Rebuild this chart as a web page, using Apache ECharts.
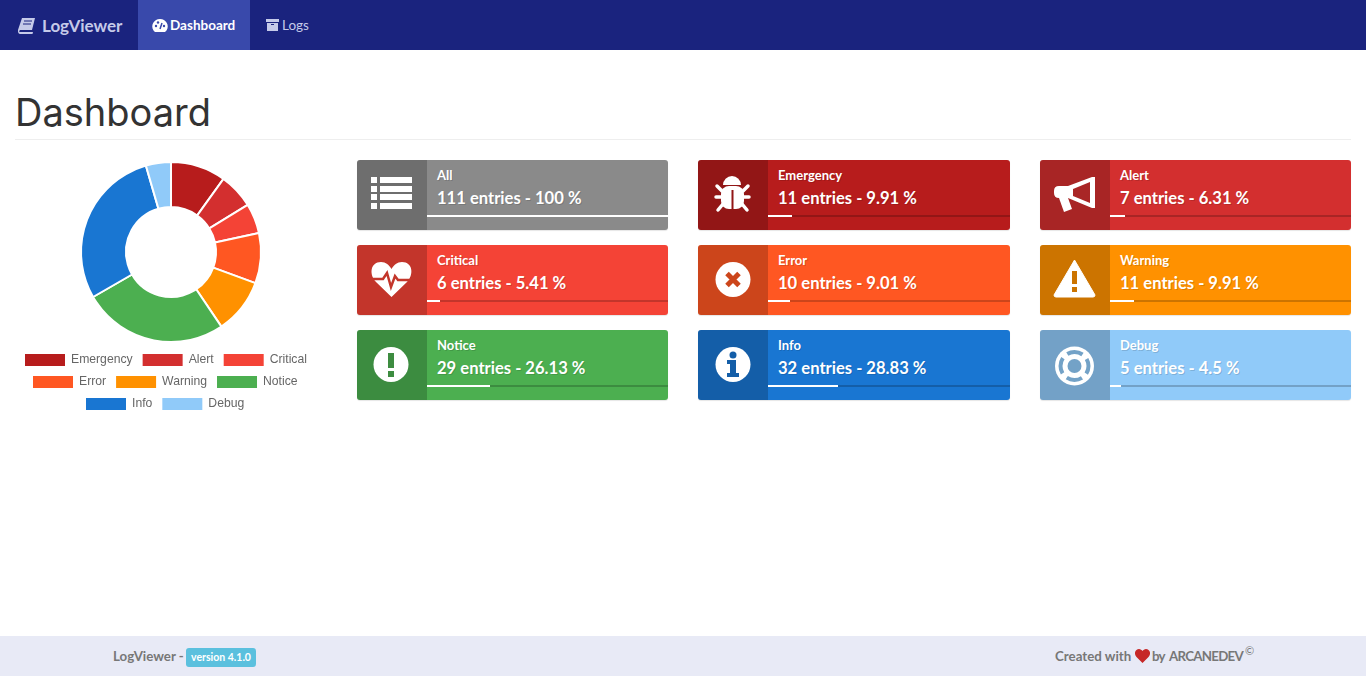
<!DOCTYPE html>
<html>
<head>
<meta charset="utf-8">
<title>LogViewer</title>
<script src="https://cdn.jsdelivr.net/npm/echarts@6/dist/echarts.min.js"></script>
<style>
html, body { margin: 0; width: 1366px; height: 676px; overflow: hidden; background: #fff; font-family: "Lato", sans-serif; }
.nav { position: absolute; left: 0; top: 0; width: 1366px; height: 50px; background: #1a237e; color: #c5cae9; }
.nav div, .nav svg { position: absolute; }
.brand { left: 42px; top: 14px; font-size: 17px; font-weight: 700; line-height: 24px; }
.active { left: 138px; top: 0; width: 112px; height: 50px; background: #3949ab; }
.link { top: 15px; font-size: 13.500px; line-height: 20px; }
h1 { position: absolute; left: 15px; top: 90px; margin: 0; font: 400 38px/44px "Inter", sans-serif; color: #333; }
.rule { position: absolute; left: 15px; top: 139px; width: 1336px; height: 1px; background: #eee; }
#chart { position: absolute; left: 0; top: 150px; width: 342px; height: 270px; }
.card { position: absolute; width: 311px; height: 70px; border-radius: 3px; color: #fff; overflow: hidden; box-shadow: 0 1px 1px rgba(0,0,0,.1); text-shadow: 1px 1px 0 rgba(0,0,0,.15); }
.card .ico { position: absolute; left: 0; top: 0; width: 70px; height: 70px; background: rgba(0,0,0,.2); }
.card .ico svg { display: block; }
.card .lvl { position: absolute; left: 80px; top: 6px; font-size: 13px; font-weight: 700; line-height: 18px; }
.card .val { position: absolute; left: 80px; top: 26px; font-size: 16.600px; font-weight: 700; line-height: 24px; white-space: nowrap; }
.card .track { position: absolute; left: 70px; right: 0; top: 55px; height: 2px; background: rgba(0,0,0,.2); }
.card .fill { height: 2px; background: #fff; }
.foot { position: absolute; left: 0; top: 636px; width: 1366px; height: 40px; background: #e8eaf6; color: #777; font-size: 13.300px; font-weight: 700; line-height: 40px; }
.foot div, .foot svg { position: absolute; }
.badge { left: 186px; top: 12px; width: 70px; height: 19px; border-radius: 3px; background: #5bc0de; color: #fff; font-size: 10.500px; line-height: 19px; text-align: center; }
.copy { left: 1245px; top: -5px; font-size: 11px; font-weight: 400; }
</style>
</head>
<body>
<div class="nav">
	<svg style="left:18px;top:17px" width="18" height="17" viewBox="0 0 18 17"><path d="M4 1h13l-3 12H2c-1 1-1 2 0 2h13l-.5 2H2C0 17-.5 14 .3 12z" fill="#c5cae9"/><path d="M6 4h8M5 7h8" stroke="#1a237e"/></svg>
	<div class="brand">LogViewer</div>
	<div class="active"></div>
	<svg style="left:152px;top:18px" width="16" height="14" viewBox="0 0 16 14"><path d="M8 1a7.500 7.500 0 0 0-6.500 11.500L3 14h10l1.500-1.500A7.500 7.500 0 0 0 8 1z" fill="#fff"/><circle cx="4" cy="8" r="1.200" fill="#3949ab"/><circle cx="6" cy="4.500" r="1.200" fill="#3949ab"/><circle cx="12" cy="8" r="1.200" fill="#3949ab"/><path d="M8 11l2-6" stroke="#3949ab" stroke-width="1.500"/></svg>
	<div class="link" style="left:170px;color:#fff;font-weight:700">Dashboard</div>
	<svg style="left:266px;top:19px" width="13" height="12" viewBox="0 0 13 12"><path d="M0 0h13v3H0zM1 4h11v8H1z" fill="#c5cae9"/><path d="M5 5.500h3" stroke="#1a237e"/></svg>
	<div class="link" style="left:282px">Logs</div>
</div>
<h1>Dashboard</h1>
<div class="rule"></div>
<div id="chart"></div>
<div id="cards"></div>
<div class="foot">
	<div style="left:113px">LogViewer -</div>
	<div class="badge">version 4.1.0</div>
	<div style="left:1055px">Created with</div>
	<svg style="left:1135px;top:13px" width="15" height="14" viewBox="0 0 15 14"><path d="M7.500 14L1.500 8C-2 4 1 0 4 0c1.500 0 2.700 1 3.500 2C8.300 1 9.500 0 11 0c3 0 6 4 2.500 8z" fill="#c62828"/></svg>
	<div style="left:1152px;letter-spacing:-.75px;word-spacing:2.500px">by ARCANEDEV</div>
	<div class="copy">©</div>
</div>
<script>
// values
var levels = ['Emergency', 'Alert', 'Critical', 'Error', 'Warning', 'Notice', 'Info', 'Debug'];
var counts = [11, 7, 6, 10, 11, 29, 32, 5];
var percents = [9.91, 6.31, 5.41, 9.01, 9.91, 26.13, 28.83, 4.5];
var colors = ['#b71c1c', '#d32f2f', '#f44336', '#ff5722', '#ff9100', '#4caf50', '#1976d2', '#90caf9'];
var totalCount = 111;
var totalColor = '#8a8a8a';
var legendRows = [['Emergency', 'Alert', 'Critical'], ['Error', 'Warning', 'Notice'], ['Info', 'Debug']];
var cardOrder = ['All', 'Emergency', 'Alert', 'Critical', 'Error', 'Warning', 'Notice', 'Info', 'Debug'];

var icons = {
	All: '<path d="M14 17h6v6h-6zM14 26h6v6h-6zM14 34h6v6h-6zM14 43h6v6h-6zM23 17h32v6H23zM23 26h32v6H23zM23 34h32v6H23zM23 43h32v6H23z" fill="#fff"/>',
	Emergency: '<path d="M25 25a9 9 0 0 1 18 0z" fill="#fff"/><rect x="23" y="26" width="23" height="23" rx="8" fill="#fff"/><path d="M34.500 30v20" stroke="DARK" stroke-width="2"/><path d="M24 31l-5-5M45 31l5-5M24 37H18M45 37h6M25 44l-5 6M44 44l5 6" stroke="#fff" stroke-width="3.500" stroke-linecap="round"/>',
	Alert: '<path d="M14 31q0-5 5-5h9l24-9h3v31h-3L28 38H19q-5 0-5-5z" fill="#fff"/><path d="M33 29l17-7v21l-17-7z" fill="DARK"/><path d="M19 38h9l4 11-8 3z" fill="#fff"/>',
	Critical: '<path d="M34.500 52L19 37C12 30 13 17 24 17c5 0 8 3 10.500 7C37 20 40 17 45 17c11 0 12 13 5 20z" fill="#fff"/><path d="M14 34h12l4-6 4 14 4-11 3 4h14" fill="none" stroke="DARK" stroke-width="2.500"/>',
	Error: '<circle cx="35" cy="34.500" r="17.500" fill="#fff"/><path d="M29 28.500l12 12M41 28.500l-12 12" stroke="DARK" stroke-width="5"/>',
	Warning: '<path d="M34.500 15L55 50q0 2-2 2H16q-2 0-2-2z" fill="#fff" stroke="#fff" stroke-linejoin="round"/><path d="M32 26h5v13h-5zM32 42h5v5h-5z" fill="DARK"/>',
	Notice: '<circle cx="34" cy="34.500" r="17.500" fill="#fff"/><path d="M31 23h6v15h-6zM31 41h6v6h-6z" fill="DARK"/>',
	Info: '<circle cx="35" cy="34.500" r="17.500" fill="#fff"/><circle cx="35" cy="25" r="3.500" fill="DARK"/><path d="M29 30h9v13h3v4H29v-4h3v-9h-3z" fill="DARK"/>',
	Debug: '<circle cx="34.500" cy="36" r="19.500" fill="#fff"/><circle cx="34.500" cy="36" r="14" fill="none" stroke="DARK" stroke-width="4" stroke-dasharray="16 6" stroke-dashoffset="8"/><circle cx="34.500" cy="36" r="7" fill="DARK"/>'
};

// cards sit on a 3 x 3 grid
var cardX = [357, 698, 1040];
var cardY = [160, 245, 330];
var cardsBox = document.getElementById('cards');
cardOrder.forEach(function (name, i) {
	var idx = levels.indexOf(name);
	var color = idx < 0 ? totalColor : colors[idx];
	var count = idx < 0 ? totalCount : counts[idx];
	var pct = idx < 0 ? 100 : percents[idx];
	var dark = 'color-mix(in srgb, ' + color + ' 80%, black)';
	var card = document.createElement('div');
	card.className = 'card';
	card.style.left = cardX[i % 3] + 'px';
	card.style.top = cardY[Math.floor(i / 3)] + 'px';
	card.style.width = (i % 3 === 1 ? 312 : 311) + 'px';
	card.style.background = color;
	card.innerHTML = '<div class="ico"><svg width="70" height="70" viewBox="0 0 70 70">' + icons[name].replace(/DARK/g, dark) + '</svg></div>' +
		'<div class="lvl">' + name + '</div>' +
		'<div class="val">' + count + ' entries - ' + pct + ' %</div>' +
		'<div class="track"><div class="fill" style="width:' + pct + '%"></div></div>';
	cardsBox.appendChild(card);
});

var legendLeft = [25, 33, 86];
var chart = echarts.init(document.getElementById('chart'));
chart.setOption({
	animation: false,
	color: colors,
	legend: legendRows.map(function (row, i) {
		return {
			data: row,
			left: legendLeft[i],
			top: 204 + i * 22,
			padding: 0,
			itemWidth: 40,
			itemHeight: 12,
			itemGap: 10,
			itemStyle: { borderWidth: 0 },
			icon: 'rect',
			selectedMode: false,
			textStyle: { color: '#666', fontSize: 12.2, fontFamily: 'Liberation Sans', padding: [0, 0, 0, 1] }
		};
	}),
	series: [{
		type: 'pie',
		center: [171, 102],
		radius: [45, 90],
		startAngle: 90,
		label: { show: false },
		labelLine: { show: false },
		itemStyle: { borderColor: '#fff', borderWidth: 2 },
		data: levels.map(function (name, i) {
			return { name: name, value: counts[i] };
		})
	}]
});
</script>
</body>
</html>
